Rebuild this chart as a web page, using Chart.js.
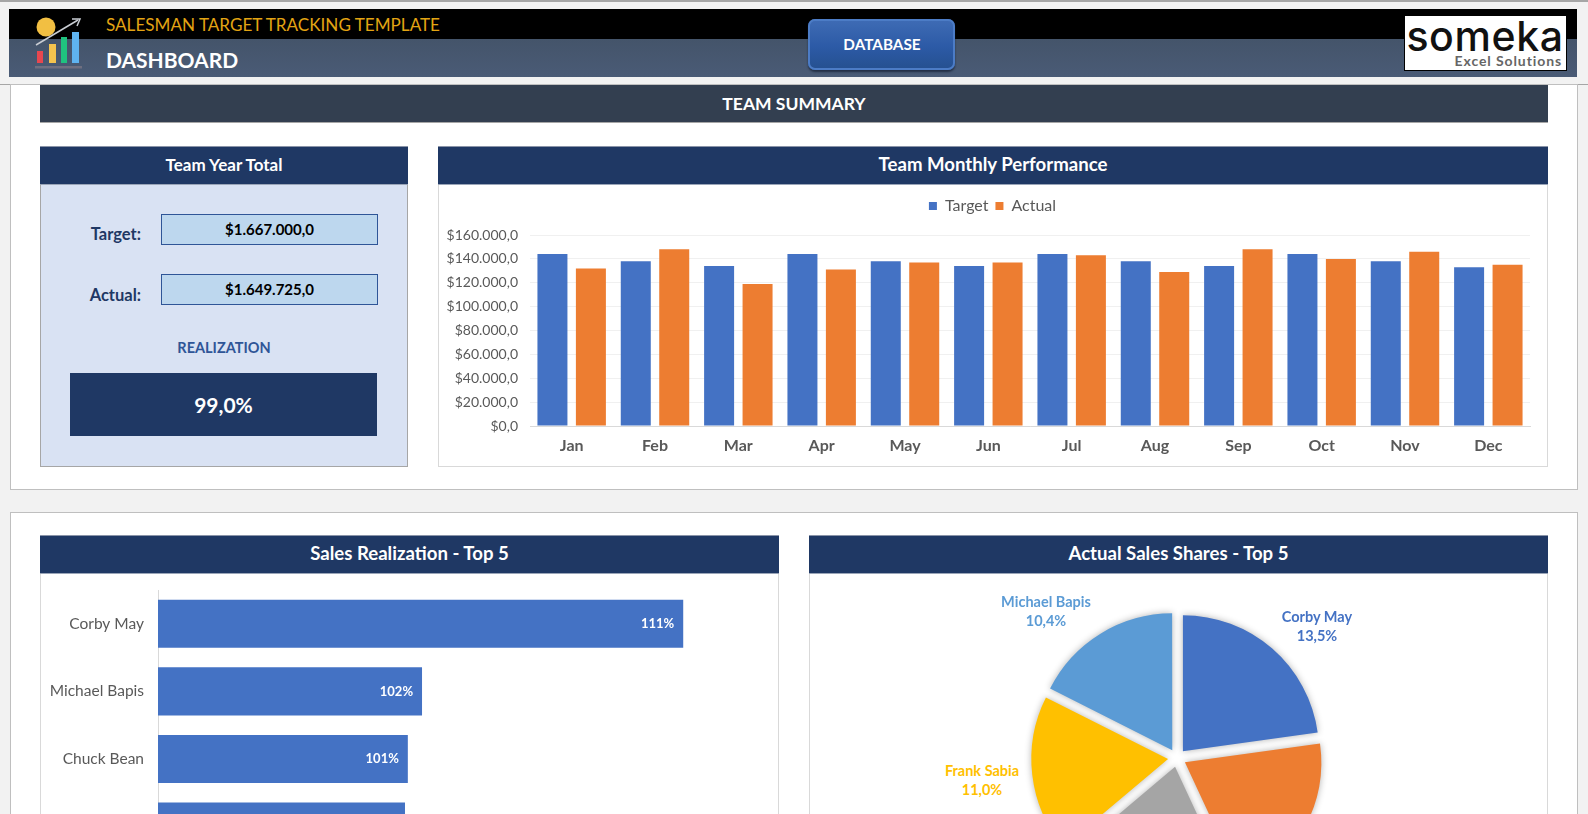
<!DOCTYPE html>
<html>
<head>
<meta charset="utf-8">
<title>Salesman Target Tracking</title>
<script src="https://cdn.jsdelivr.net/npm/chart.js@4"></script>
<style>
	html, body { margin: 0; padding: 0; }
	body { width: 1588px; height: 814px; overflow: hidden; position: relative; background: #f2f2f2; font-family: Lato, sans-serif; }
	.box { position: absolute; box-sizing: border-box; }
	.txt { position: absolute; white-space: nowrap; line-height: 1; }
	.center { transform: translate(-50%, -50%); text-align: center; }
	.left { transform: translateY(-50%); }
	.right { transform: translate(-100%, -50%); }
	.card { background: #fff; border: 1px solid #bfbfbf; }
	.head { background: #1f3864; border-top: 1px solid #8a94a8; border-bottom: 1px solid #9aa5b8; color: #fff; font-weight: 700; display: flex; align-items: center; justify-content: center; font-size: 18.6px; padding-bottom: 3px; }
	.panel { background: #fff; border: 1px solid #d9d9d9; }
	.valbox { background: #bdd7ee; border: 1px solid #2f5597; color: #000; font-weight: 700; font-size: 15px; display: flex; align-items: center; justify-content: center; padding-bottom: 2px; }
	canvas { position: absolute; display: block; }
	.pielabel { font-weight: 700; font-size: 14.5px; line-height: 19px; white-space: pre; }
</style>
</head>
<body>
	<div class="box" style="left:0;top:0;width:1588px;height:2px;background:#a6a6a6"></div>

	<!-- header -->
	<div class="box" style="left:9px;top:9px;width:1568px;height:30px;background:#000"></div>
	<div class="box" style="left:9px;top:39px;width:1568px;height:38px;background:linear-gradient(#44546a,#4a5b76)"></div>
	<svg class="box" style="left:30px;top:12px" width="56" height="60" viewBox="30 12 56 60">
		<circle cx="46" cy="27" r="9.5" fill="#f2bf42"/>
		<path d="M36 45 L78 20" stroke="#c9cdd3" stroke-width="1.5" fill="none"/>
		<path d="M72 19 L80 19 L77 26" stroke="#c9cdd3" stroke-width="1.5" fill="none"/>
		<rect x="37" y="51" width="6" height="12" fill="#e8474f"/>
		<rect x="49" y="44" width="7" height="19" fill="#f4c34e"/>
		<rect x="61" y="37" width="6" height="26" fill="#1fc27f"/>
		<rect x="72" y="32" width="7" height="31" fill="#5fb3f0"/>
		<rect x="35" y="66" width="47" height="2.5" fill="#6f6f80"/>
	</svg>
	<div class="txt left" style="left:106px;top:25px;color:#e3a413;font-size:17.1px">SALESMAN TARGET TRACKING TEMPLATE</div>
	<div class="txt left" style="left:106px;top:59px;color:#fff;font-size:21px;font-weight:700">DASHBOARD</div>
	<div class="box" style="left:808px;top:19px;width:147px;height:51px;border-radius:7px;background:linear-gradient(#3f6cb5,#2c5aa6 55%,#25508f);box-shadow:inset 0 0 0 2px #4c7cc6,0 2px 2px rgba(20,30,50,.7)"></div>
	<div class="txt center" style="left:882px;top:45px;color:#fff;font-size:15.3px;font-weight:700">DATABASE</div>
	<div class="box" style="left:1404px;top:15px;width:163px;height:56px;background:#fff;border:1px solid #000"></div>
	<div class="txt center" style="left:1485px;top:36px;color:#111;font-size:41px;font-weight:500;font-family:Inter,sans-serif;letter-spacing:.6px">someka</div>
	<div class="txt right" style="left:1562px;top:61px;color:#666;font-size:14px;font-weight:700;letter-spacing:.9px">Excel Solutions</div>

	<!-- team summary card -->
	<div class="box" style="left:0;top:84px;width:1588px;height:1px;background:#a6a6a6"></div>
	<div class="box card" style="left:10px;top:84px;width:1568px;height:406px"></div>
	<div class="box" style="left:40px;top:85px;width:1508px;height:38px;background:#333f50;border-bottom:1px solid #a6a6a6;color:#fff;font-weight:700;font-size:17.5px;display:flex;align-items:center;justify-content:center">TEAM SUMMARY</div>

	<div class="box" style="left:40px;top:146px;width:368px;height:321px;background:#d9e2f3;border:1px solid #a6a6a6"></div>
	<div class="box head" style="left:40px;top:146px;width:368px;height:39px;font-size:17px">Team Year Total</div>
	<div class="txt right" style="left:141px;top:234px;color:#1f3864;font-weight:700;font-size:16.5px">Target:</div>
	<div class="txt right" style="left:141px;top:295px;color:#1f3864;font-weight:700;font-size:16.5px">Actual:</div>
	<div class="box valbox" style="left:161px;top:214px;width:217px;height:31px">$1.667.000,0</div>
	<div class="box valbox" style="left:161px;top:274px;width:217px;height:31px">$1.649.725,0</div>
	<div class="txt center" style="left:224px;top:348px;color:#2f5597;font-weight:700;font-size:14.5px">REALIZATION</div>
	<div class="box" style="left:70px;top:373px;width:307px;height:63px;background:#1f3864;color:#fff;font-weight:700;font-size:21px;display:flex;align-items:center;justify-content:center">99,0%</div>

	<div class="box panel" style="left:438px;top:146px;width:1110px;height:321px"></div>
	<div class="box head" style="left:438px;top:146px;width:1110px;height:39px">Team Monthly Performance</div>
	<canvas id="monthly-chart" width="1110" height="281" style="left:438px;top:185px"></canvas>

	<!-- top 5 card -->
	<div class="box card" style="left:10px;top:512px;width:1568px;height:340px"></div>

	<div class="box panel" style="left:40px;top:535px;width:739px;height:300px"></div>
	<div class="box head" style="left:40px;top:535px;width:739px;height:39px">Sales Realization - Top 5</div>
	<canvas id="realization-chart" width="737" height="387" style="left:41px;top:574px"></canvas>

	<div class="box panel" style="left:809px;top:535px;width:739px;height:300px"></div>
	<div class="box head" style="left:809px;top:535px;width:739px;height:39px">Actual Sales Shares - Top 5</div>
	<canvas id="shares-chart" width="308" height="308" style="left:1023px;top:604px"></canvas>
	<div id="share-label-0" class="txt center pielabel" style="left:1317px;top:626px"></div>
	<div id="share-label-3" class="txt center pielabel" style="left:982px;top:780px"></div>
	<div id="share-label-4" class="txt center pielabel" style="left:1046px;top:611px"></div>

<script>
	const months = ["Jan", "Feb", "Mar", "Apr", "May", "Jun", "Jul", "Aug", "Sep", "Oct", "Nov", "Dec"];
	const targetValues = [144000, 138000, 134000, 144000, 138000, 134000, 144000, 138000, 134000, 144000, 138000, 133000];
	const actualValues = [132000, 148000, 119000, 131000, 137000, 137000, 143000, 129000, 148000, 140000, 146000, 135000];

	// names of the lower rows and slices are cut off by the screenshot
	const realizationNames = ["Corby May", "Michael Bapis", "Chuck Bean", "", ""];
	const realizationValues = [111, 101.8, 101.3, 101.2, null];

	const shareNames = ["Corby May", "", "", "Frank Sabia", "Michael Bapis"];
	const shareValues = [13.5, 12.0, 12.3, 11.0, 10.4];
	const shareColors = ["#4472c4", "#ed7d31", "#a5a5a5", "#ffc000", "#5b9bd5"];

	Chart.defaults.font.family = "Lato, sans-serif";
	Chart.defaults.animation = false;

	function money(value) {
		return "$" + value.toString().replace(/\B(?=(\d{3})+$)/g, ".") + ",0";
	}

	// extra room between legend and plot, legend sits a bit right of center
	const legendNudge = {
		id: "legendNudge",
		beforeLayout(chart) {
			if (chart.legend.gapPatched) return;
			const fit = chart.legend.fit;
			chart.legend.fit = function () {
				fit.call(this);
				this.height += 11;
			};
			chart.legend.gapPatched = true;
		},
		afterLayout(chart) {
			chart.legend.left += 17;
		},
	};

	const barValueLabels = {
		id: "barValueLabels",
		afterDatasetsDraw(chart) {
			const ctx = chart.ctx;
			const meta = chart.getDatasetMeta(0);
			ctx.save();
			ctx.fillStyle = "#fff";
			ctx.font = "700 13px Lato, sans-serif";
			ctx.textAlign = "right";
			ctx.textBaseline = "middle";
			meta.data.forEach((bar, i) => {
				if (realizationValues[i] === null) return;
				ctx.fillText(Math.round(realizationValues[i]) + "%", bar.x - 9, bar.y);
			});
			ctx.restore();
		},
	};

	const sliceShadow = {
		id: "sliceShadow",
		beforeDatasetDraw(chart) {
			chart.ctx.save();
			chart.ctx.shadowColor = "rgba(0,0,0,0.3)";
			chart.ctx.shadowBlur = 7;
		},
		afterDatasetDraw(chart) {
			chart.ctx.restore();
		},
	};

	new Chart(document.getElementById("monthly-chart"), {
		type: "bar",
		plugins: [legendNudge],
		data: {
			labels: months,
			datasets: [
				{ label: "Target", data: targetValues, backgroundColor: "#4472c4" },
				{ label: "Actual", data: actualValues, backgroundColor: "#ed7d31" },
			],
		},
		options: {
			responsive: false,
			categoryPercentage: 0.923,
			barPercentage: 0.78,
			layout: { padding: { top: 6, right: 18 } },
			plugins: {
				tooltip: { enabled: false },
				legend: {
					labels: {
						boxWidth: 8,
						boxHeight: 8,
						padding: 7,
						color: "#595959",
						font: { size: 16 },
					},
				},
			},
			scales: {
				y: {
					min: 0,
					max: 160000,
					afterFit(scale) {
						scale.width = 92;
					},
					ticks: {
						stepSize: 20000,
						padding: 12,
						color: "#595959",
						font: { size: 14 },
						callback: (value) => money(value),
					},
					grid: { color: "#f0f0f0", drawTicks: false },
					border: { display: false },
				},
				x: {
					afterFit(scale) {
						scale.height = 40;
					},
					ticks: {
						padding: 10,
						color: "#595959",
						font: { size: 16, weight: "bold" },
					},
					grid: { display: false, drawTicks: false },
					border: { color: "#d9d9d9" },
				},
			},
		},
	});

	new Chart(document.getElementById("realization-chart"), {
		type: "bar",
		plugins: [barValueLabels],
		data: {
			labels: realizationNames,
			datasets: [{ data: realizationValues, backgroundColor: "#4472c4" }],
		},
		options: {
			indexAxis: "y",
			responsive: false,
			categoryPercentage: 1,
			barPercentage: 0.711,
			layout: { padding: { top: 16, right: 38, bottom: 33 } },
			plugins: { legend: { display: false }, tooltip: { enabled: false } },
			scales: {
				x: {
					display: false,
					min: 92.5,
					max: 113,
				},
				y: {
					afterFit(scale) {
						scale.width = 117;
						// tick padding is only meant horizontally here
						scale.paddingTop = 0;
						scale.paddingBottom = 0;
					},
					ticks: {
						padding: 14,
						color: "#595959",
						font: { size: 15.5 },
					},
					grid: { display: false, drawTicks: false },
					border: { color: "#d9d9d9" },
				},
			},
		},
	});

	new Chart(document.getElementById("shares-chart"), {
		type: "pie",
		plugins: [sliceShadow],
		data: {
			labels: shareNames,
			datasets: [
				{
					data: shareValues,
					backgroundColor: shareColors,
					borderWidth: 0,
					offset: 36,
				},
			],
		},
		options: {
			responsive: false,
			plugins: { legend: { display: false }, tooltip: { enabled: false } },
		},
	});

	// the two lower slices have their labels below the visible area
	shareNames.forEach((name, i) => {
		const label = document.getElementById("share-label-" + i);
		if (!label) return;
		label.textContent = name + "\n" + shareValues[i].toFixed(1).replace(".", ",") + "%";
		label.style.color = shareColors[i];
	});
</script>
</body>
</html>
